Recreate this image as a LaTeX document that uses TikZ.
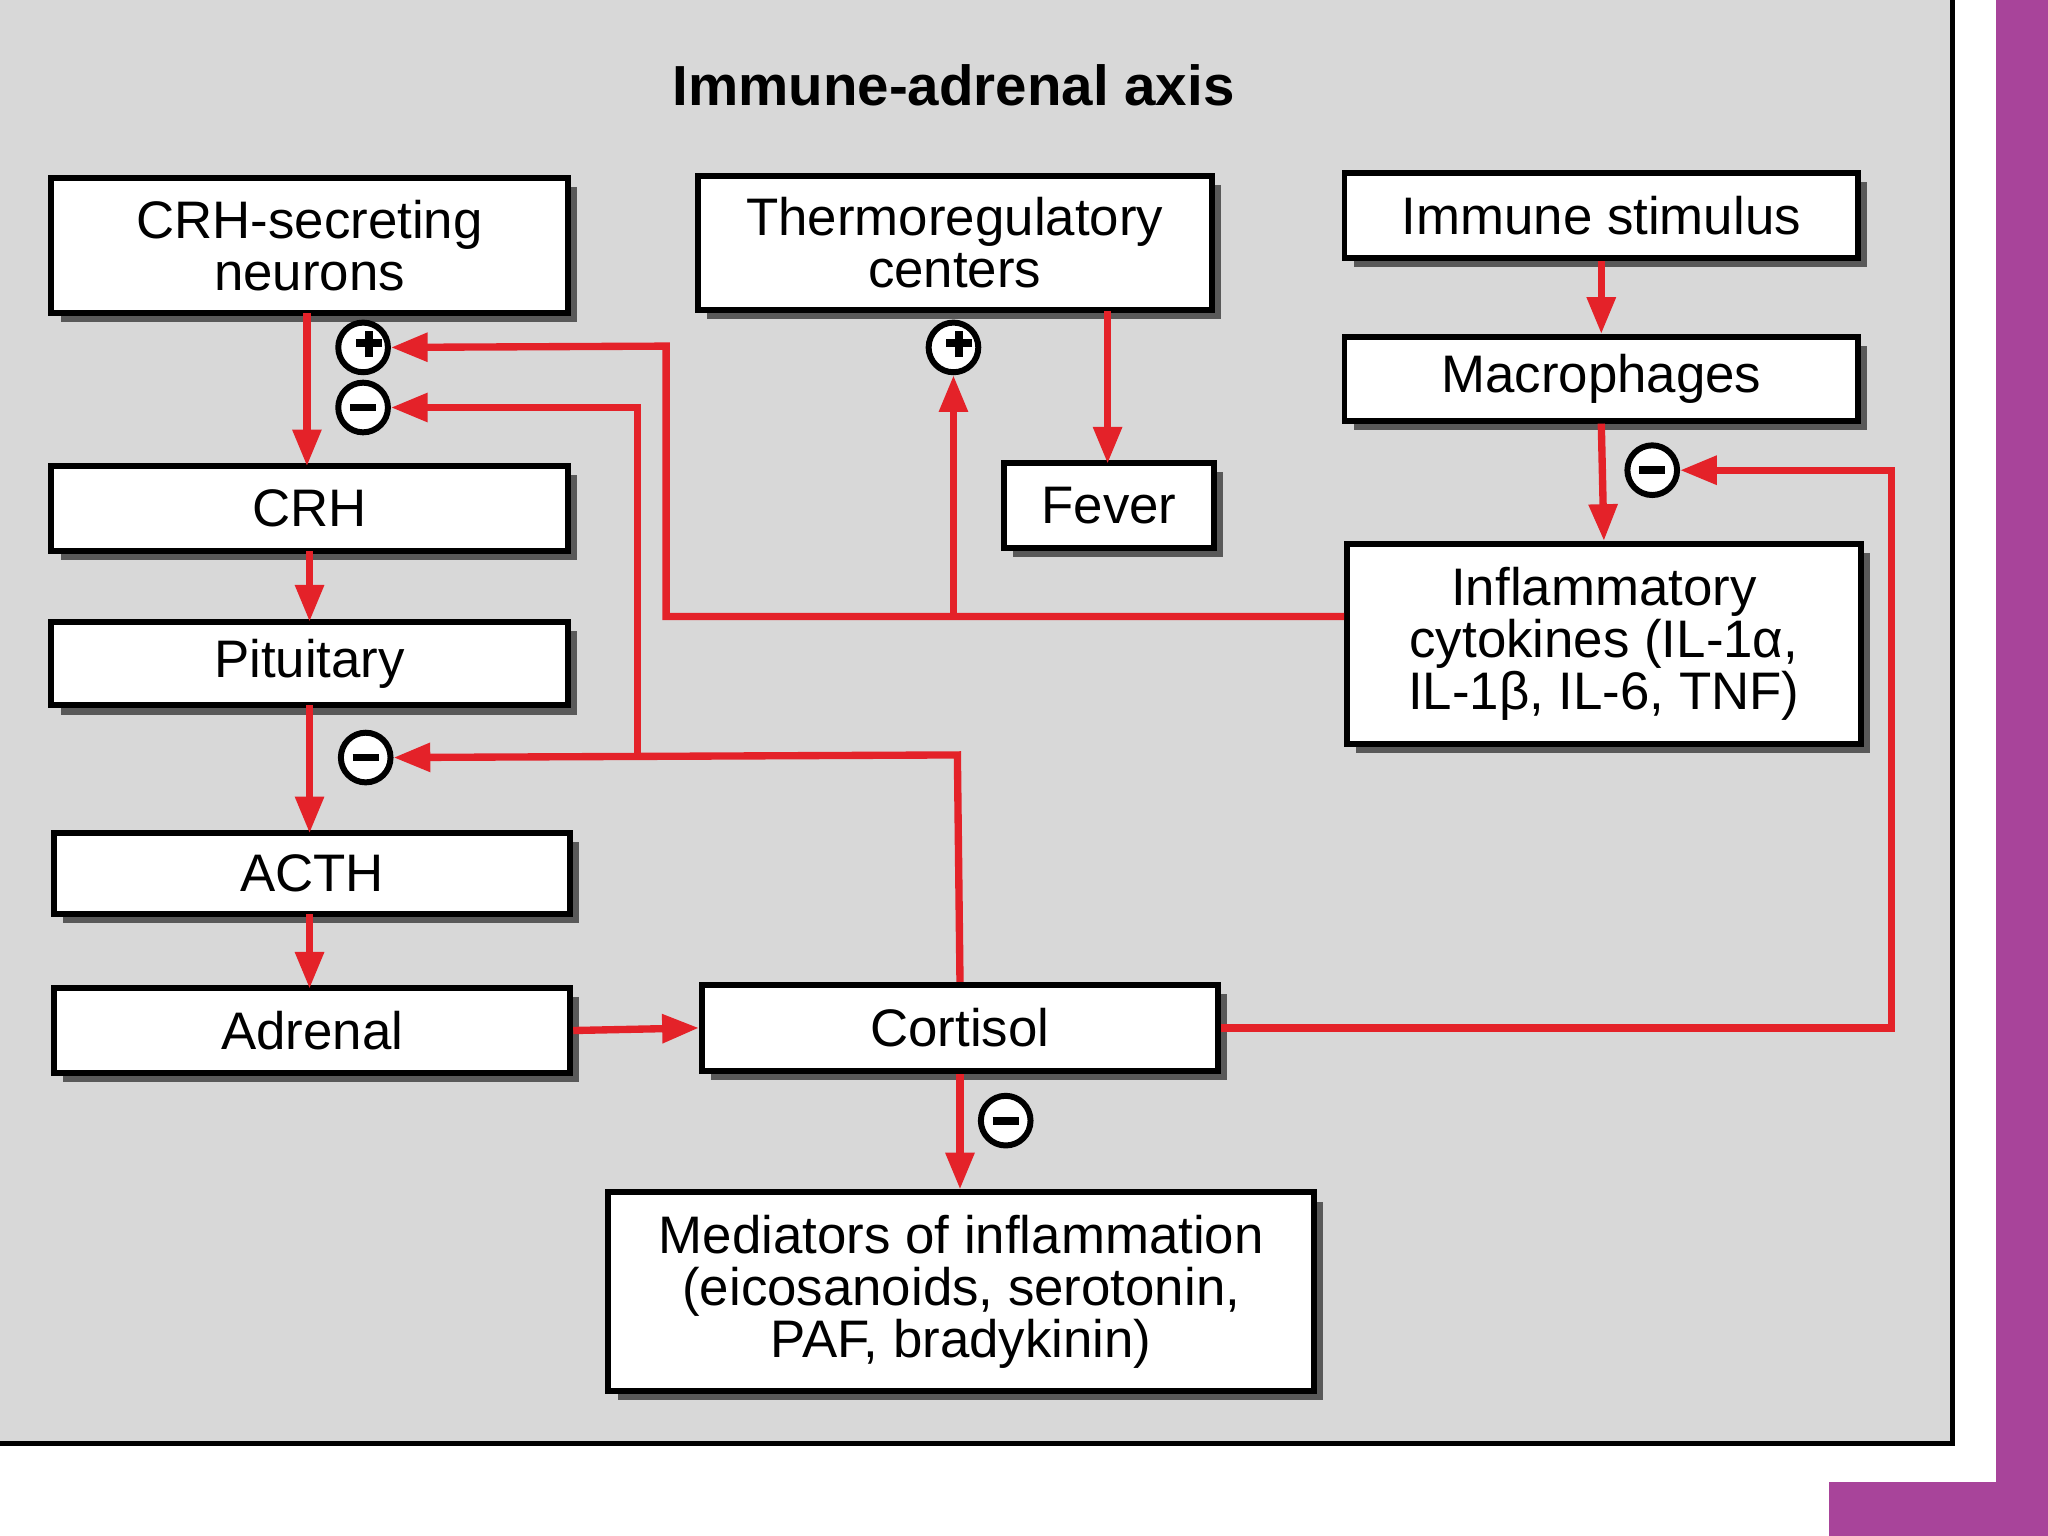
\documentclass[tikz,border=0pt]{standalone}
\usepackage{fontspec}
\setmainfont{Liberation Sans}
\usetikzlibrary{arrows.meta,shadows}
\definecolor{rd}{HTML}{E42229}
\definecolor{bg}{HTML}{D8D8D8}
\definecolor{pu}{HTML}{A8449A}
\begin{document}
\begin{tikzpicture}[x=0.01cm,y=-0.01cm,
  bx/.style={draw,line width=1.3pt,fill=white,align=center,font=\fontsize{11.5}{11.4}\selectfont,inner sep=0pt,
    drop shadow={shadow xshift=2pt,shadow yshift=-2pt,fill=black!65,opacity=1}},
  sg/.style={circle,draw,line width=1.3pt,fill=white,minimum size=0.38cm,inner sep=0pt},
  ar/.style={rd,line width=1.6pt,-{Triangle[length=8pt,width=6pt]}}]
\useasboundingbox (0,0) rectangle (1568,1176);
\fill[white] (0,0) rectangle (1568,1176);
\fill[bg] (0,0) rectangle (1495,1105);
\draw[line width=1pt] (1495,0) -- (1495,1105) -- (0,1105);
\fill[pu] (1528,0) rectangle (1568,1176);
\fill[pu] (1400,1135) rectangle (1568,1176);
\node[font=\bfseries\fontsize{12.3}{14}\selectfont] (t) at (730,65) {Immune-adrenal axis};
\node[bx,minimum width=3.95cm,minimum height=1.03cm] (n) at (237,188) {CRH-secreting\\neurons};
\node[bx,minimum width=3.93cm,minimum height=1.03cm] (th) at (731,186) {Thermoregulatory\\centers};
\node[bx,minimum width=3.93cm,minimum height=0.65cm] (im) at (1226,165) {Immune stimulus};
\node[bx,minimum width=3.93cm,minimum height=0.64cm] (ma) at (1226,290) {Macrophages};
\node[bx,minimum width=3.95cm,minimum height=0.65cm] (crh) at (237,389) {CRH};
\node[bx,minimum width=1.61cm,minimum height=0.65cm] (fe) at (849,387) {Fever};
\node[bx,minimum width=3.93cm,minimum height=1.53cm] (cy) at (1228,493) {Inflammatory\\cytokines (IL-1α,\\IL-1β, IL-6, TNF)};
\node[bx,minimum width=3.95cm,minimum height=0.64cm] (pi) at (237,508) {Pituitary};
\node[bx,minimum width=3.95cm,minimum height=0.62cm] (ac) at (239,669) {ACTH};
\node[bx,minimum width=3.95cm,minimum height=0.65cm] (ad) at (239,789) {Adrenal};
\node[bx,minimum width=3.95cm,minimum height=0.66cm] (co) at (735,787) {Cortisol};
\node[bx,minimum width=5.4cm,minimum height=1.52cm] (me) at (736,989) {Mediators of inflammation\\(eicosanoids, serotonin,\\PAF, bradykinin)};
\node[sg] (p1) at (278,266) {\rule[-0.09cm]{0.5pt}{0pt}\rule[0.04cm]{0.2cm}{0.06cm}\hspace{-0.13cm}\rule[-0.04cm]{0.06cm}{0.2cm}\hspace{0.07cm}};
\node[sg] (m1) at (278,312) {\rule{0.2cm}{0.06cm}};
\node[sg] (p2) at (730,266) {\rule[-0.09cm]{0.5pt}{0pt}\rule[0.04cm]{0.2cm}{0.06cm}\hspace{-0.13cm}\rule[-0.04cm]{0.06cm}{0.2cm}\hspace{0.07cm}};
\node[sg] (m2) at (280,580) {\rule{0.2cm}{0.06cm}};
\node[sg] (m3) at (1265,360) {\rule{0.2cm}{0.06cm}};
\node[sg] (m4) at (770,858) {\rule{0.2cm}{0.06cm}};
\draw[ar] (235,240) -- (235,357);
\draw[ar] (237,422) -- (237,476);
\draw[ar] (237,540) -- (237,638);
\draw[ar] (237,700) -- (237,757);
\draw[ar] (ad.east) -- (co.west);
\draw[ar] (848,238) -- (848,355);
\draw[ar] (im.south) -- (ma.north);
\draw[ar] (ma.south) -- (cy.north);
\draw[ar] (cy.west |- 0,472) -- (510,472) -- (510,265) -- (p1.east);
\draw[ar] (730,472) -- (p2.south);
\draw[ar] (co.north) -- (733,578) -- (m2.east);
\draw[ar] (488,578) -- (488,312) -- (m1.east);
\draw[ar] (co.east) -- (1448,787) -- (1448,360) -- (m3.east);
\draw[ar] (co.south) -- (me.north -| co.south);
\end{tikzpicture}
\end{document}
